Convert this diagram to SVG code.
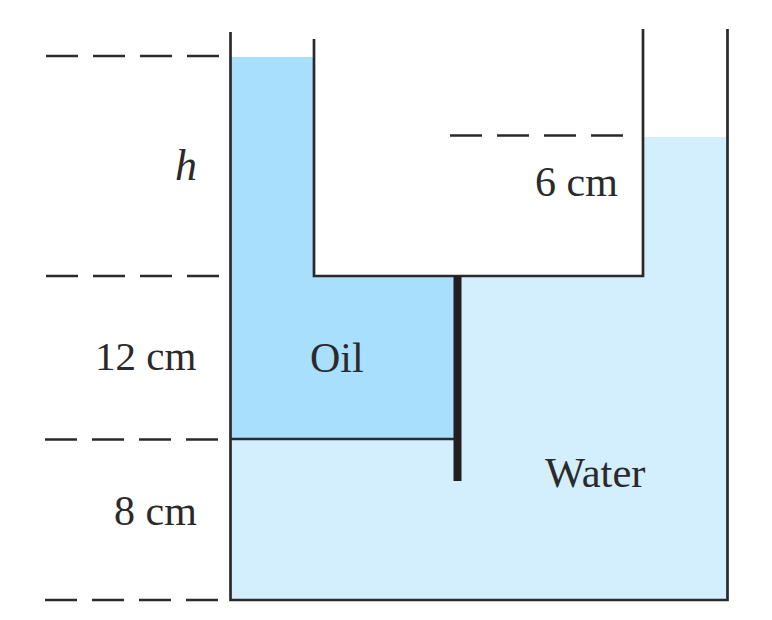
<svg xmlns="http://www.w3.org/2000/svg" width="772" height="620" viewBox="0 0 772 620">
<style>
.l{stroke:#2b2a2b;stroke-width:2.7;fill:none}
.d{stroke:#2b2a2b;stroke-width:2.5;fill:none;stroke-dasharray:32 15}
text{font-family:"Liberation Serif","Times New Roman",serif;font-size:42px;fill:#2b2a2b}
</style>
<rect width="772" height="620" fill="#fff"/>
<path d="M231 57H314V276H457V439H231Z" fill="#a8dffc"/>
<path d="M231 439H457V276H643V137H727V600H231Z" fill="#d3effe"/>
<path class="l" d="M230.500 32V600H727.500V29"/>
<path class="l" d="M314 39V276H643V29"/>
<path class="l" d="M231 439H457"/>
<path d="M457.500 276V481" stroke="#231f20" stroke-width="8" fill="none"/>
<path class="d" d="M46 56H220"/>
<path class="d" d="M46 276H220"/>
<path class="d" d="M45 439.500H219"/>
<path class="d" d="M45 600H219"/>
<path class="d" d="M450 135.500H624"/>
<text x="175" y="180" font-style="italic" style="font-size:44px">h</text>
<text x="535" y="196">6 cm</text>
<text x="95" y="370" style="font-size:41px">12 cm</text>
<text x="310" y="372">Oil</text>
<text x="545" y="487" style="font-size:42.500px">Water</text>
<text x="114" y="525">8 cm</text>
</svg>
